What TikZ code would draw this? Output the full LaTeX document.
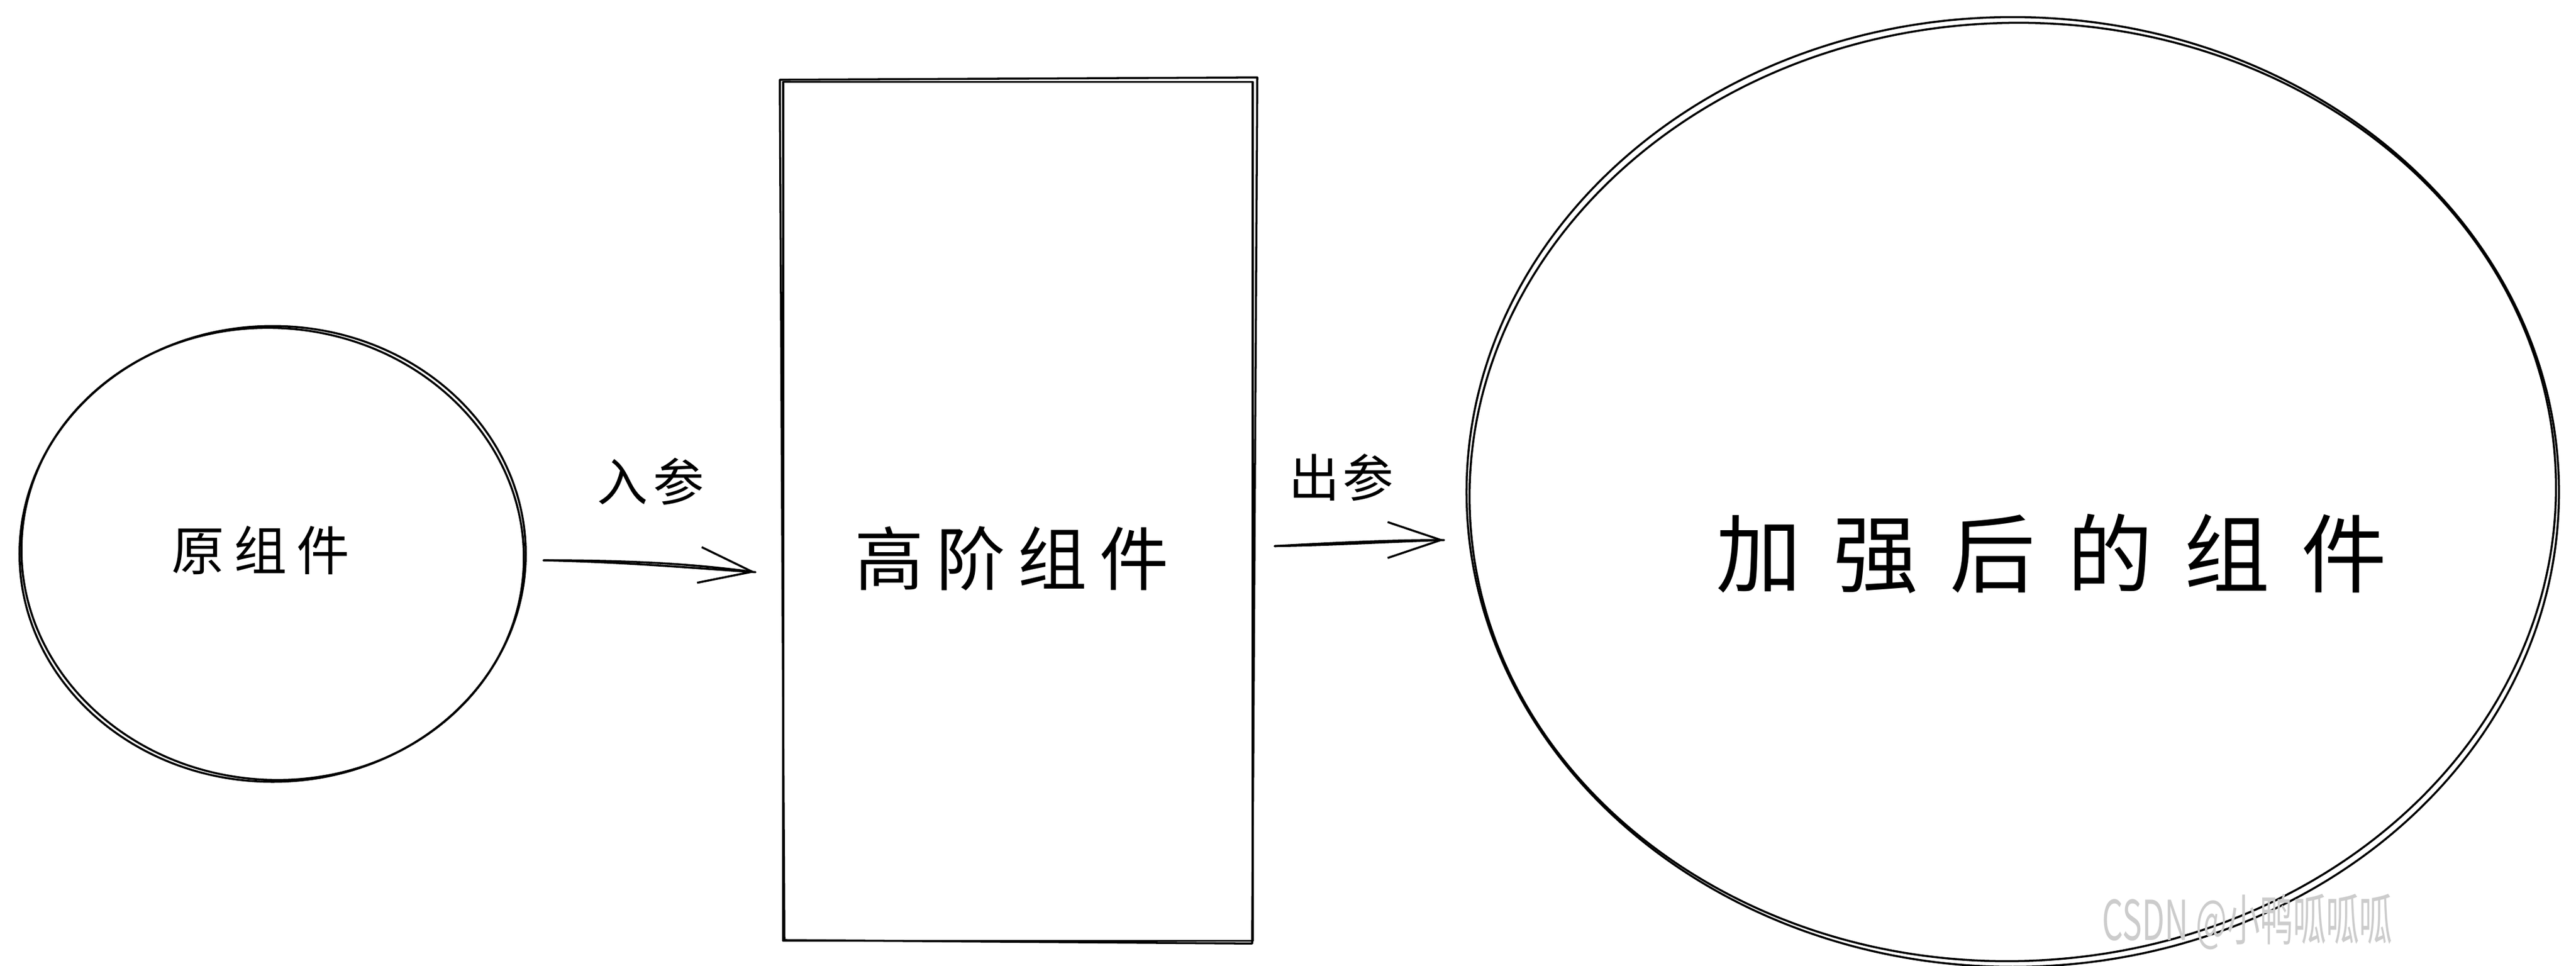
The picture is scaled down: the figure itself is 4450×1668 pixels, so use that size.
\documentclass[tikz,border=0pt]{standalone}
\usepackage{fontspec}
\newfontfamily\cjk{Noto Sans CJK SC}
\usetikzlibrary{shapes.geometric,arrows.meta,calc}
\begin{document}
\begin{tikzpicture}[x=0.01cm,y=-0.01cm,
  sk/.style={line width=1pt, line cap=round, line join=round, black},
  lab/.style={inner sep=0pt, text=black},
  barb/.style={-{Straight Barb[length=0.92cm,width=0.62cm,line width=1pt]}}]
\useasboundingbox (0,0) rectangle (4450,1668);
\fill[white] (0,0) rectangle (4450,1668);

% original component (small ellipse)
\node[ellipse, draw, sk, inner sep=0pt, minimum width=8.74cm, minimum height=7.87cm] (orig) at (471,957) {};
\draw[sk, rotate around={-5:(orig.center)}] (orig.center) ellipse [x radius=4.34cm, y radius=3.90cm];
\node[lab, font=\cjk\fontsize{26pt}{30pt}\selectfont] (origt) at (450,951) {原\hspace{0.18em}组\hspace{0.18em}件};

% higher order component (rectangle)
\node[draw, sk, inner sep=0pt, minimum width=8.11cm, minimum height=14.83cm] (hoc) at (1758.5,883.5) {};
\draw[sk] ($(hoc.north west)+(-4,-2)$) -- ($(hoc.north east)+(6,-6)$) -- ($(hoc.south east)+(-3,3)$) -- ($(hoc.south west)+(4,-3)$) -- cycle;
\node[lab, font=\cjk\fontsize{34pt}{40pt}\selectfont] (hoct) at (1748,965) {高\hspace{0.18em}阶\hspace{0.18em}组\hspace{0.18em}件};

% enhanced component (large ellipse)
\node[ellipse, draw, sk, inner sep=0pt, minimum width=18.86cm, minimum height=16.4cm] (enh) at (3477,850) {};
\draw[sk, rotate around={2:(enh.center)}] (enh.center) ellipse [x radius=9.38cm, y radius=8.10cm];
\node[lab, font=\cjk\fontsize{42pt}{48pt}\selectfont] (enht) at (3544,957) {加\hspace{0.37em}强\hspace{0.37em}后\hspace{0.37em}的\hspace{0.37em}组\hspace{0.37em}件};

% arrow: input
\coordinate (a1s) at ($(orig.east)+(29,11)$);
\coordinate (a1e) at ($(hoc.west)+(-46,105)$);
\draw[sk, barb] (a1s) .. controls (1100,968) and (1200,975) .. (a1e);
\draw[sk] (a1s) .. controls (1100,972) and (1200,982) .. (a1e);
\node[lab, font=\cjk\fontsize{25pt}{30pt}\selectfont] (inl) at (1124,832) {入\hspace{0.1em}参};

% arrow: output
\coordinate (a2s) at ($(hoc.east)+(36,60)$);
\coordinate (a2e) at ($(enh.west)+(-37,83)$);
\draw[sk, barb] (a2s) .. controls (2300,938) and (2400,933) .. (a2e);
\draw[sk] (a2s) .. controls (2300,942) and (2400,936) .. (a2e);
\node[lab, font=\cjk\fontsize{25pt}{30pt}\selectfont] (outl) at (2317,825) {出\hspace{0.05em}参};

% watermark
\node[lab, text=black!20, font=\cjk\fontsize{27pt}{32pt}\selectfont, xscale=0.6] (wm) at (3882,1593) {CSDN @小鸭呱呱呱};
\end{tikzpicture}
\end{document}
